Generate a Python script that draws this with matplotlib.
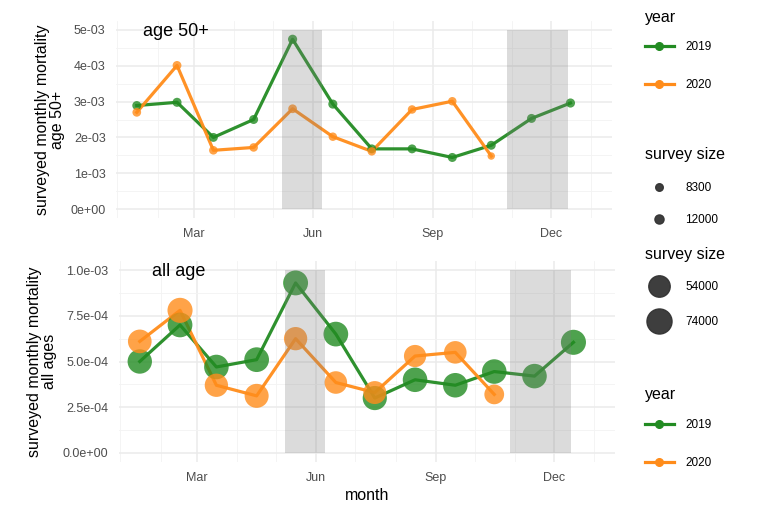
import datetime as dt
import numpy as np
import matplotlib.pyplot as plt
import matplotlib.dates as mdates
from matplotlib.lines import Line2D

plt.rcParams['font.family'] = ['Liberation Sans', 'DejaVu Sans']

# data
months_2019 = list(range(1, 13))
months_2020 = list(range(1, 11))

mort50_2019 = [2.89e-3, 2.98e-3, 2.00e-3, 2.50e-3, 4.74e-3, 2.93e-3,
               1.68e-3, 1.68e-3, 1.44e-3, 1.78e-3, 2.53e-3, 2.96e-3]
mort50_2020 = [2.70e-3, 4.01e-3, 1.64e-3, 1.72e-3, 2.80e-3, 2.02e-3,
               1.61e-3, 2.78e-3, 3.01e-3, 1.48e-3]
size50_2019 = [11600, 11800, 11400, 11600, 12100, 11900,
               11500, 11400, 11700, 11500, 11600, 12100]
size50_2020 = [10900, 11200, 10600, 10500, 11000, 10300,
               10200, 10400, 10300, 8000]

mortall_2019 = [5.0e-4, 7.0e-4, 4.7e-4, 5.1e-4, 9.3e-4, 6.5e-4,
                3.0e-4, 4.0e-4, 3.7e-4, 4.45e-4, 4.2e-4, 6.05e-4]
mortall_2020 = [6.1e-4, 7.8e-4, 3.7e-4, 3.12e-4, 6.25e-4, 3.85e-4,
                3.3e-4, 5.3e-4, 5.5e-4, 3.2e-4]
sizeall_2019 = [70000, 72000, 71000, 72000, 73000, 72000,
                69000, 71000, 71000, 71000, 71000, 74000]
sizeall_2020 = [66000, 74000, 64000, 68000, 64000, 60000,
                62000, 58000, 60000, 46000]

shade_periods = [(dt.date(2019, 5, 8), dt.date(2019, 6, 8)),
                 (dt.date(2019, 10, 28), dt.date(2019, 12, 14))]

GREEN = '#228B22'
ORANGE = '#FF8C1A'
W, H = 768, 514


def mid_month(months):
    return [dt.date(2019, m, 16) for m in months]


def draw_panel(ax, m19, m20, s19, s20, k, ytop, yticks, ylabels, ylab, tag):
    ax.plot(mid_month(months_2019), m19, color=GREEN, lw=2.3, alpha=0.95, zorder=3)
    ax.plot(mid_month(months_2020), m20, color=ORANGE, lw=2.3, alpha=0.95, zorder=3)
    ax.scatter(mid_month(months_2019), m19, s=np.array(s19) * k, color=GREEN,
               alpha=0.8, lw=0, zorder=4)
    ax.scatter(mid_month(months_2020), m20, s=np.array(s20) * k, color=ORANGE,
               alpha=0.8, lw=0, zorder=4)
    for start, end in shade_periods:
        ax.fill_between([start, end], 0, ytop, color='#7f7f7f', alpha=0.28,
                        lw=0, zorder=5)

    ax.set_xlim(dt.date(2018, 12, 31), dt.date(2020, 1, 17))
    ax.set_ylim(-ytop * 0.05, ytop * 1.05)
    ax.xaxis.set_major_locator(mdates.MonthLocator(bymonth=[3, 6, 9, 12]))
    ax.xaxis.set_minor_locator(mdates.MonthLocator())
    ax.xaxis.set_major_formatter(mdates.DateFormatter('%b'))
    ax.set_yticks(yticks)
    ax.set_yticklabels(ylabels)
    ax.set_yticks(np.array(yticks[:-1]) + (yticks[1] - yticks[0]) / 2, minor=True)
    ax.grid(which='major', color='#ebebeb', lw=1.1, zorder=0)
    ax.grid(which='minor', color='#f3f3f3', lw=0.6, zorder=0)
    ax.set_axisbelow(True)
    for sp in ax.spines.values():
        sp.set_visible(False)
    ax.tick_params(which='both', length=0, labelsize=9, labelcolor='#4d4d4d')
    ax.tick_params(axis='y', pad=7.5)
    ax.tick_params(axis='x', pad=7)
    ax.set_ylabel(ylab, fontsize=11.5, linespacing=1.0, labelpad=4)
    ax.text(0.12, 0.947, tag, transform=ax.transAxes, fontsize=13,
            va='center', ha='center')


fig = plt.figure(figsize=(W / 100, H / 100), dpi=100)
ax1 = fig.add_axes([116 / W, 1 - 218 / H, (612 - 116) / W, (218 - 21) / H])
ax2 = fig.add_axes([119 / W, 1 - 462 / H, (615 - 119) / W, (462 - 261) / H])

draw_panel(ax1, mort50_2019, mort50_2020, size50_2019, size50_2020, 0.0036, 5e-3,
           [0, 1e-3, 2e-3, 3e-3, 4e-3, 5e-3],
           ['0e+00', '1e-03', '2e-03', '3e-03', '4e-03', '5e-03'],
           'surveyed monthly mortality\nage 50+', 'age 50+')
draw_panel(ax2, mortall_2019, mortall_2020, sizeall_2019, sizeall_2020, 0.0044, 1e-3,
           [0, 2.5e-4, 5e-4, 7.5e-4, 1e-3],
           ['0.0e+00', '2.5e-04', '5.0e-04', '7.5e-04', '1.0e-03'],
           'surveyed monthly mortality\nall ages', 'all age')
ax2.set_xlabel('month', fontsize=11.5, labelpad=3)

# legends
def year_handles():
    return [Line2D([], [], color=GREEN, lw=2.3, marker='o', ms=5.5),
            Line2D([], [], color=ORANGE, lw=2.3, marker='o', ms=5.5)]


def size_handles(sizes, k):
    return [Line2D([], [], ls='', marker='o', color='#333333', alpha=0.95,
                   ms=np.sqrt(s * k)) for s in sizes]


leg_kw = dict(loc='upper left', frameon=False, alignment='left', fontsize=8.5,
              title_fontsize=11.5, handlelength=2.45, handletextpad=0.95,
              borderaxespad=0, borderpad=0)

# handles, labels, title, top (px), title gap (pt), label spacing
legends = [
    (year_handles(), ['2019', '2020'], 'year', 10, 11.8, 2.15),
    (size_handles([8300, 12000], 0.0036), ['8300', '12000'], 'survey size', 147, 14.7, 1.65),
    (size_handles([54000, 74000], 0.0044), ['54000', '74000'], 'survey size', 247, 14.0, 1.9),
    (year_handles(), ['2019', '2020'], 'year', 387, 12.6, 2.15),
]
for handles, labels, title, top, gap, spacing in legends:
    leg = fig.legend(handles, labels, title=title,
                     bbox_to_anchor=(645 / W, 1 - top / H),
                     labelspacing=spacing, **leg_kw)
    leg._legend_box.sep = gap

fig.savefig('out.png', dpi=100)
